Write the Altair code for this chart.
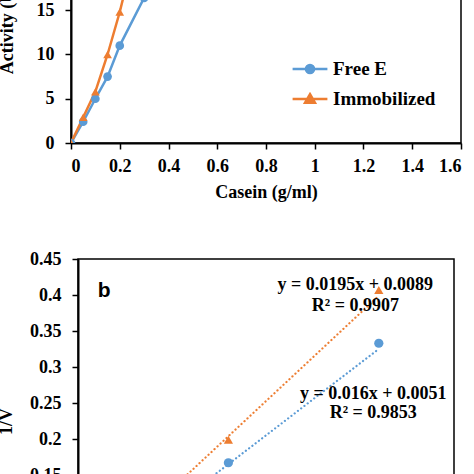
import altair as alt
import pandas as pd

# ---------------- data ----------------
series_names = ["Free E", "Immobilized"]
series_colors = ["#5B9BD5", "#ED7D31"]
series_shapes = ["circle", "triangle-up"]

# panel a : activity vs casein
casein = [0, 0.05, 0.1, 0.15, 0.2, 0.3]
free_e = [0, 2.4, 5.0, 7.5, 11.0, 16.4]
immobilized = [0, 2.9, 5.8, 10.0, 14.8, 26.0]

# panel b : Lineweaver-Burk
inv_s = [10, 20]
inv_v_free = [0.167, 0.333]
inv_v_immob = [0.199, 0.407]

# trendlines as printed on the chart: slope, intercept, R2
fit_slope = [0.016, 0.0195]
fit_intercept = [0.0051, 0.0089]
fit_r2 = ["0.9853", "0.9907"]
fit_range = [2.5, 20]

x_ticks_a = [0, 0.2, 0.4, 0.6, 0.8, 1.0, 1.2, 1.4, 1.6]
y_ticks_a = [0, 5, 10, 15, 20, 25]
x_ticks_b = [0, 5, 10, 15, 20, 25]
y_ticks_b = [0, 0.05, 0.1, 0.15, 0.2, 0.25, 0.3, 0.35, 0.4, 0.45]

# ---------------- tables ----------------
df_a = pd.DataFrame({
    "casein": casein * 2,
    "activity": free_e + immobilized,
    "series": [series_names[0]] * len(casein) + [series_names[1]] * len(casein),
})
df_b = pd.DataFrame({
    "inv_s": inv_s * 2,
    "inv_v": inv_v_free + inv_v_immob,
    "series": [series_names[0]] * len(inv_s) + [series_names[1]] * len(inv_s),
})
trend_rows = []
for name, m, b in zip(series_names, fit_slope, fit_intercept):
    for xv in fit_range:
        trend_rows.append({"inv_s": xv, "inv_v": m * xv + b, "series": name})
df_trend = pd.DataFrame(trend_rows)

eq_text = []
for m, b, r2 in zip(fit_slope, fit_intercept, fit_r2):
    eq_text.append((f"y = {m:g}x + {b:g}", f"R\u00b2 = {r2}"))
# annotation anchors (data coordinates of panel b)
eq_x = [19.63, 18.44]
eq_y1 = [0.2556, 0.4069]
eq_y2 = [0.2292, 0.3778]
df_eq = pd.DataFrame({
    "inv_s": eq_x + eq_x,
    "inv_v": eq_y1 + eq_y2,
    "label": [t[0] for t in eq_text] + [t[1] for t in eq_text],
})
df_b_label = pd.DataFrame({"inv_s": [1.32], "inv_v": [0.3972], "label": ["b"]})

SERIF = "Liberation Serif"

# legend symbols: a line segment with the marker on it
circle_path = "M-1.2,0L1.2,0M-0.28,0A0.28,0.28 0 1,0 0.28,0A0.28,0.28 0 1,0 -0.28,0Z"
tri_path = "M-1.2,0L1.2,0M0,-0.33L0.34,0.25L-0.34,0.25Z"

legend = alt.Legend(
    orient="none", legendX=223, legendY=149, title=None, padding=0,
    symbolSize=841, symbolStrokeWidth=2.5,
    labelFont=SERIF, labelFontWeight="bold", labelFontSize=19,
    labelColor="black", labelOffset=7, rowPadding=4,
)


def series_layers(df, xenc, yenc, kind, **mark_kw):
    layers = []
    for name, col, shp in zip(series_names, series_colors, series_shapes):
        base = alt.Chart(df).transform_filter(alt.datum.series == name)
        if kind == "line":
            mk = base.mark_line(color=col, clip=True, **mark_kw)
        else:
            mk = base.mark_point(filled=True, color=col, shape=shp, opacity=1,
                                 clip=True, **mark_kw)
        layers.append(mk.encode(x=xenc, y=yenc))
    return layers


# ---------------- panel a ----------------
xa = alt.X("casein:Q", scale=alt.Scale(domain=[0, 1.6], nice=False),
           axis=alt.Axis(values=x_ticks_a, format="~g", title="Casein (g/ml)",
                         titleY=54, titleBaseline="alphabetic", labelPadding=8))
ya = alt.Y("activity:Q", scale=alt.Scale(domain=[0, 27], nice=False),
           axis=alt.Axis(values=y_ticks_a, title="Activity (U/ml)",
                         titleX=-64, titleY=112, titleBaseline="middle",
                         labelPadding=11))

# legend carrier: no rows drawn, legend built from the scale domains
legend_carrier = alt.Chart(df_a).transform_filter("false").mark_point(
    filled=True, strokeWidth=2.5, opacity=1).encode(
    x=xa, y=ya,
    color=alt.Color("series:N", scale=alt.Scale(domain=series_names, range=series_colors),
                    legend=legend),
    stroke=alt.Stroke("series:N", scale=alt.Scale(domain=series_names, range=series_colors),
                      legend=legend),
    shape=alt.Shape("series:N", scale=alt.Scale(domain=series_names,
                                                range=[circle_path, tri_path]),
                    legend=legend),
)

panel_a = alt.layer(
    *series_layers(df_a, xa, ya, "line", strokeWidth=2.5),
    *series_layers(df_a, xa, ya, "point", size=75),
    legend_carrier,
).properties(width=390, height=239)

# ---------------- panel b ----------------
xb = alt.X("inv_s:Q", scale=alt.Scale(domain=[0, 25], nice=False),
           axis=alt.Axis(values=x_ticks_b, format="~g", title="1/S"))
yb = alt.Y("inv_v:Q", scale=alt.Scale(domain=[0, 0.45], nice=False),
           axis=alt.Axis(values=y_ticks_b, format="~g", title="1/V",
                         titleX=-72, titleBaseline="middle", labelOverlap=False,
                         labelPadding=11))

eq_b = alt.Chart(df_eq).mark_text(font=SERIF, fontWeight="bold", fontSize=18,
                                  color="black", align="center", baseline="alphabetic").encode(
    x=xb, y=yb, text="label:N")
lab_b = alt.Chart(df_b_label).mark_text(font="Liberation Sans", fontWeight="bold", fontSize=21,
                                        color="black", align="left", baseline="alphabetic").encode(
    x=xb, y=yb, text="label:N")
panel_b = alt.layer(
    *series_layers(df_trend, xb, yb, "line", strokeWidth=2.2, strokeDash=[0.1, 4],
                   strokeCap="round"),
    *series_layers(df_b, xb, yb, "point", size=85),
    eq_b, lab_b,
).properties(width=376, height=324)

chart = alt.vconcat(panel_a, panel_b, spacing=116, center=True, bounds="flush").resolve_scale(
    color="independent", stroke="independent", shape="independent"
).properties(
    padding={"top": -97, "left": -4, "right": 0, "bottom": -150},
    background="white",
).configure_view(stroke="black", strokeWidth=1.5).configure_axis(
    grid=False, domainColor="black", domainWidth=2, tickColor="black", tickWidth=1.5,
    tickSize=6, labelPadding=9, labelFont=SERIF, labelFontWeight="bold", labelFontSize=18,
    labelColor="black", titleFont=SERIF, titleFontWeight="bold", titleFontSize=18,
    titleColor="black",
)

chart.save("out.html", embed_options={"renderer": "svg", "actions": False})
